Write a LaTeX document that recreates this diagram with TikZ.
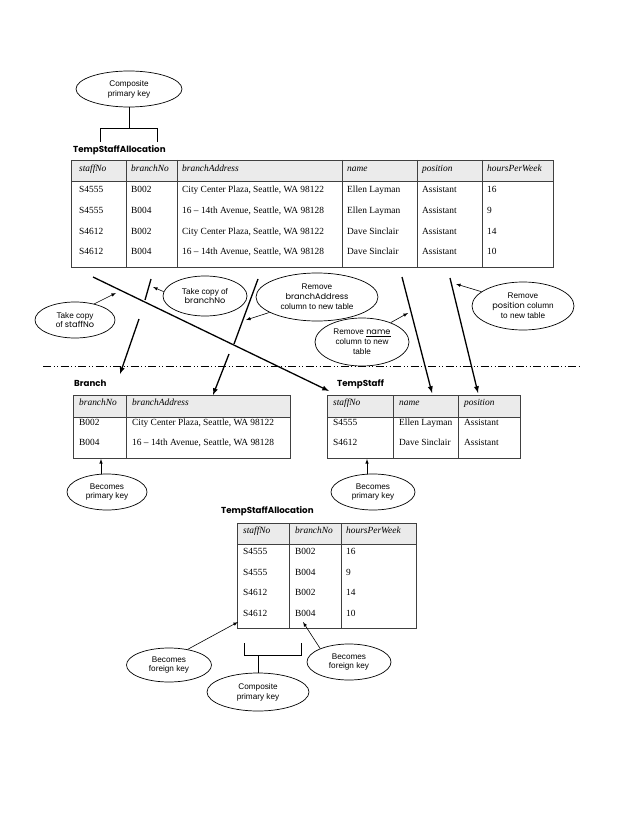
\documentclass[tikz,border=0pt]{standalone}
\usepackage{fontspec}
\setmainfont{Liberation Serif}
\newfontfamily\notefont{Liberation Sans}
\newfontfamily\comicfont{Poppins}
\usepackage{tikz}
\usetikzlibrary{shapes,arrows}
\newcommand{\relbox}[5]{
  \fill[headfill] (#1,#2) rectangle (#3,#4);
  \draw[rule] (#1,#2) rectangle (#3,#5);
  \draw[rule] (#1,#4) -- (#3,#4);
}
\newcommand{\cf}[1]{{\comicfont #1}}
\tikzset{
  cell/.style     = {anchor=base west, inner sep=0pt, font=\fontsize{9.4}{11}\selectfont},
  head/.style     = {cell, font=\fontsize{9.4}{11}\selectfont\itshape},
  reltitle/.style = {anchor=base west, inner sep=0pt, font=\comicfont\bfseries\fontsize{8.7}{10}\selectfont},
  note/.style     = {ellipse, draw, line width=0.7pt, inner sep=0pt, align=center,
                     font=\notefont\fontsize{8.2}{9.8}\selectfont},
  headfill/.style = {fill=black!8},
  rule/.style     = {draw=black!75, line width=0.8pt},
  colrule/.style  = {draw=black!75, line width=0.5pt},
  move/.style     = {line width=1.3pt, -latex},
  cut/.style      = {line width=1.3pt},
  callout/.style  = {line width=0.6pt, -latex},
  brace/.style    = {line width=0.7pt},
  split/.style    = {line width=0.7pt, dash pattern=on 8pt off 2.5pt on 1pt off 2.5pt on 1pt off 2.5pt}
}

\begin{document}
\begin{tikzpicture}[x=1pt, y=-1pt]
  \useasboundingbox (0,0) rectangle (638,826);

  \node[note, minimum width=106pt, minimum height=36pt] (cpk1) at (129,89) {Composite\\primary key};
  \draw[brace] (cpk1.south) -- (129,128);
  \draw[brace] (100,142) -- (100,128) -- (157,128) -- (157,142);
  \node[reltitle] (tsa1) at (73,152.5) {TempStaffAllocation};
  \relbox{71}{160}{553}{181}{267}
  \foreach \x in {126,177,342,417,482} \draw[colrule] (\x,160) -- (\x,267);
  \node[head] (h1) at (79,172) {staffNo};
  \node[head] (h2) at (131,172) {branchNo};
  \node[head] (h3) at (182,172) {branchAddress};
  \node[head] (h4) at (347,172) {name};
  \node[head] (h5) at (422,172) {position};
  \node[head] (h6) at (487,172) {hoursPerWeek};
  \foreach \yy/\sid/\bno/\adr/\nam/\hrs [count=\i] in
    {192.5/S4555/B002/{City Center Plaza, Seattle, WA 98122}/Ellen Layman/16,
     213.5/S4555/B004/{16 -- 14th Avenue, Seattle, WA 98128}/Ellen Layman/9,
     234.5/S4612/B002/{City Center Plaza, Seattle, WA 98122}/Dave Sinclair/14,
     254.5/S4612/B004/{16 -- 14th Avenue, Seattle, WA 98128}/Dave Sinclair/10}{
    \node[cell] (s\i) at (79,\yy) {\sid};
    \node[cell] (b\i) at (131,\yy) {\bno};
    \node[cell] (a\i) at (182,\yy) {\adr};
    \node[cell] (n\i) at (347,\yy) {\nam};
    \node[cell] (p\i) at (422,\yy) {Assistant};
    \node[cell] (w\i) at (487,\yy) {\hrs};
  }

  \node[note, minimum width=80pt, minimum height=36pt] (tcs) at (75,320) {Take copy\\of \cf{staffNo}};
  \node[note, minimum width=84pt, minimum height=40pt] (tcb) at (205,296) {Take copy of\\\cf{branchNo}};
  \node[note, minimum width=122pt, minimum height=48pt] (rba) at (317,297) {Remove\\\cf{branchAddress}\\column to new table};
  \node[note, minimum width=94pt, minimum height=48pt] (rnm) at (362,342) {Remove \cf{\underline{name}}\\column to new\\table};
  \node[note, minimum width=102pt, minimum height=48pt] (rps) at (523,306) {Remove\\\cf{position} column\\to new table};

  \coordinate (d1) at (93,277);  \coordinate (d2) at (329,391);
  \coordinate (k1) at (151,279); \coordinate (k2) at (145,300);
  \coordinate (k3) at (139,319); \coordinate (k4) at (120,374);
  \coordinate (e1) at (258,279); \coordinate (e2) at (234,344);
  \coordinate (e3) at (229,354); \coordinate (e4) at (213,395);
  \coordinate (m1) at (402,277); \coordinate (m2) at (432,393);
  \coordinate (q1) at (450,278); \coordinate (q2) at (478,393);
  \draw[move] (d1) -- (d2);
  \draw[cut] (k1) -- (k2);
  \draw[move] (k3) -- (k4);
  \draw[cut] (e1) -- (e2);
  \draw[move] (e3) -- (e4);
  \draw[move] (m1) -- (m2);
  \draw[move] (q1) -- (q2);
  \draw[callout] (tcs.40) -- (116,293);
  \draw[callout] (tcb.174) -- (153,287);
  \draw[callout] (rba.198) -- (246,320);
  \draw[callout] (rnm.34) -- (408,313);
  \draw[callout] (rps.161) -- (456,284);

  \draw[split] (43,366) -- (580,366);

  \node[reltitle] (br) at (74,386.5) {Branch};
  \relbox{73}{395}{290}{417}{458}
  \draw[colrule] (126,395) -- (126,458);
  \node[head] (bh1) at (79,405.5) {branchNo};
  \node[head] (bh2) at (132,405.5) {branchAddress};
  \node[cell] (bb1) at (79,425.5) {B002};
  \node[cell] (ba1) at (132,425.5) {City Center Plaza, Seattle, WA 98122};
  \node[cell] (bb2) at (79,445.5) {B004};
  \node[cell] (ba2) at (132,445.5) {16 -- 14th Avenue, Seattle, WA 98128};
  \node[note, minimum width=80pt, minimum height=36pt] (bpk1) at (107,492) {Becomes\\primary key};
  \coordinate (u1) at (101,459);
  \draw[callout] (bpk1.north -| u1) -- (u1);

  \node[reltitle] (ts) at (337,386.5) {TempStaff};
  \relbox{327}{395}{520}{417}{458}
  \foreach \x in {393,458} \draw[colrule] (\x,395) -- (\x,458);
  \node[head] (th1) at (333,405.5) {staffNo};
  \node[head] (th2) at (399,405.5) {name};
  \node[head] (th3) at (464,405.5) {position};
  \node[cell] (ts1) at (333,425.5) {S4555};
  \node[cell] (tn1) at (399,425.5) {Ellen Layman};
  \node[cell] (tp1) at (464,425.5) {Assistant};
  \node[cell] (ts2) at (333,445.5) {S4612};
  \node[cell] (tn2) at (399,445.5) {Dave Sinclair};
  \node[cell] (tp2) at (464,445.5) {Assistant};
  \node[note, minimum width=84pt, minimum height=36pt] (bpk2) at (373,492) {Becomes\\primary key};
  \coordinate (u2) at (367,459);
  \draw[callout] (bpk2.north -| u2) -- (u2);

  \node[reltitle] (tsa2) at (221,513.5) {TempStaffAllocation};
  \relbox{237}{523}{416}{544}{628}
  \foreach \x in {289,341} \draw[colrule] (\x,523) -- (\x,628);
  \node[head] (ah1) at (243,533.5) {staffNo};
  \node[head] (ah2) at (295,533.5) {branchNo};
  \node[head] (ah3) at (346,533.5) {hoursPerWeek};
  \foreach \yy/\sid/\bno/\hrs [count=\i] in
    {554.5/S4555/B002/16, 575.5/S4555/B004/9, 595.5/S4612/B002/14, 616.5/S4612/B004/10}{
    \node[cell] (as\i) at (243,\yy) {\sid};
    \node[cell] (ab\i) at (295,\yy) {\bno};
    \node[cell] (aw\i) at (346,\yy) {\hrs};
  }
  \node[note, minimum width=85pt, minimum height=34pt] (bfk1) at (169,665) {Becomes\\foreign key};
  \node[note, minimum width=84pt, minimum height=36pt] (bfk2) at (349,662) {Becomes\\foreign key};
  \node[note, minimum width=102pt, minimum height=38pt] (cpk2) at (258,692) {Composite\\primary key};
  \draw[callout] (bfk1.40) -- (238,622);
  \draw[callout] (bfk2.155) -- (303,622);
  \draw[brace] (cpk2.north) -- (258,655);
  \draw[brace] (244,643) -- (244,655) -- (301,655) -- (301,643);
\end{tikzpicture}
\end{document}
